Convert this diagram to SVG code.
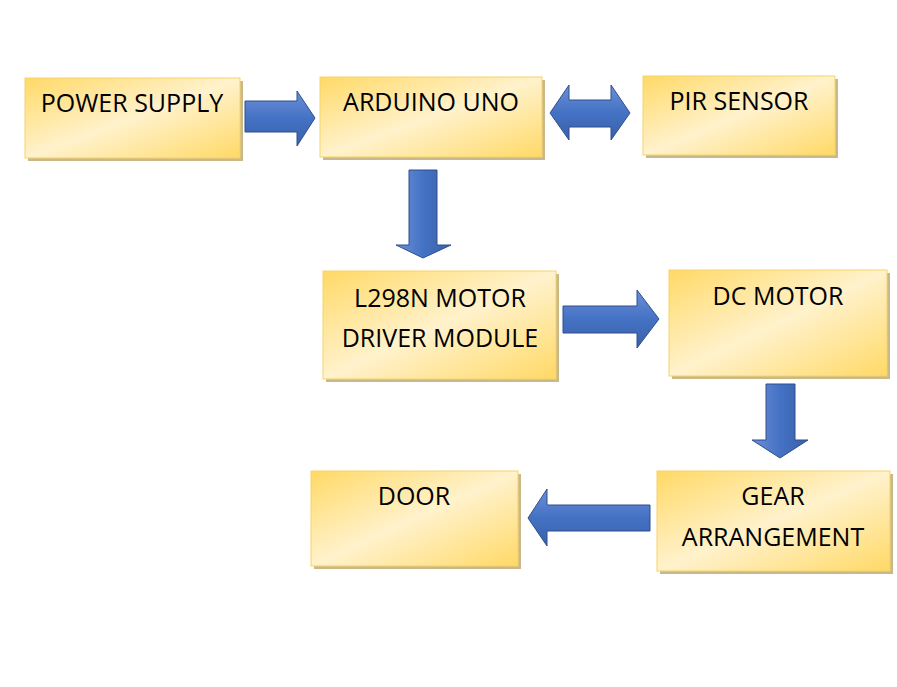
<svg xmlns="http://www.w3.org/2000/svg" width="897" height="687" viewBox="0 0 897 687">
<defs>
<linearGradient id="bg" x1="0" y1="0" x2="1" y2="1">
<stop offset="0" stop-color="#FFD966"/><stop offset="0.5" stop-color="#FFF2CC"/><stop offset="1" stop-color="#FFD966"/>
</linearGradient>
<linearGradient id="ah" x1="0" y1="0" x2="0" y2="1">
<stop offset="0" stop-color="#6D8FD6"/><stop offset="0.5" stop-color="#4472C4"/><stop offset="1" stop-color="#3A60A8"/>
</linearGradient>
<linearGradient id="av" x1="0" y1="0" x2="1" y2="0">
<stop offset="0" stop-color="#6D8FD6"/><stop offset="0.5" stop-color="#4472C4"/><stop offset="1" stop-color="#3A60A8"/>
</linearGradient>
</defs>
<style>
.b{fill:url(#bg);stroke:#F5D36A;stroke-width:1}
.s{fill:#C9B98A}
.t{font-family:"Open Sans","Liberation Sans",sans-serif;font-size:25px;fill:#000;text-anchor:middle}
.ah{fill:url(#ah);stroke:#2F4F8F;stroke-width:1}
.av{fill:url(#av);stroke:#2F4F8F;stroke-width:1}
</style>
<rect width="897" height="687" fill="#fff"/>
<g id="power"><rect class="s" x="28" y="81" width="215" height="80"/><rect class="b" x="25" y="78" width="215" height="80"/><text class="t" x="132" y="112">POWER SUPPLY</text></g>
<g id="arduino"><rect class="s" x="323" y="80" width="222" height="80"/><rect class="b" x="320" y="77" width="222" height="80"/><text class="t" x="431" y="111">ARDUINO UNO</text></g>
<g id="pir"><rect class="s" x="646" y="79" width="192" height="79"/><rect class="b" x="643" y="76" width="192" height="79"/><text class="t" x="739" y="110">PIR SENSOR</text></g>
<g id="l298n"><rect class="s" x="326" y="274" width="233" height="108"/><rect class="b" x="323" y="271" width="233" height="108"/><text class="t" x="440" y="307">L298N MOTOR</text><text class="t" x="440" y="347">DRIVER MODULE</text></g>
<g id="dcmotor"><rect class="s" x="672" y="273" width="218" height="106"/><rect class="b" x="669" y="270" width="218" height="106"/><text class="t" x="778" y="305">DC MOTOR</text></g>
<g id="gear"><rect class="s" x="660" y="474" width="233" height="100"/><rect class="b" x="657" y="471" width="233" height="100"/><text class="t" x="773" y="505">GEAR</text><text class="t" x="773" y="546">ARRANGEMENT</text></g>
<g id="door"><rect class="s" x="314" y="474" width="207" height="95"/><rect class="b" x="311" y="471" width="207" height="95"/><text class="t" x="414" y="505">DOOR</text></g>
<g id="connectors">
<polygon class="ah" points="245,101 297,101 297,91 315,118 297,146 297,132 245,132"/>
<polygon class="ah" points="550,113 569,85 569,100 611,100 611,85 630,113 611,140 611,127 569,127 569,140"/>
<polygon class="av" points="409,170 437,170 437,245 451,245 423,258 396,245 409,245"/>
<polygon class="ah" points="563,306 637,306 637,290 659,319 637,348 637,333 563,333"/>
<polygon class="av" points="766,384 795,384 795,440 808,440 780,458 752,440 766,440"/>
<polygon class="ah" points="650,505 547,505 547,489 528,518 547,546 547,531 650,531"/>
</g>
</svg>
